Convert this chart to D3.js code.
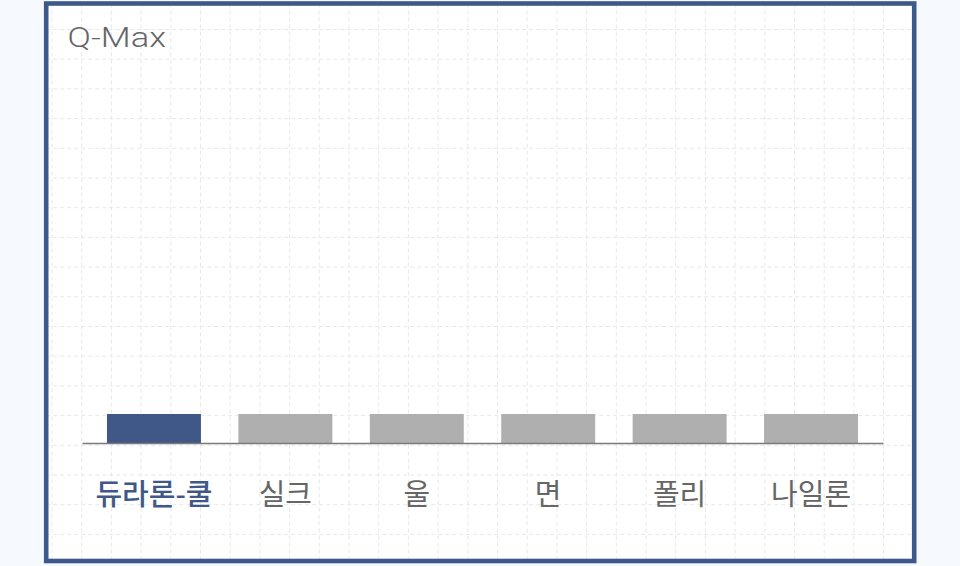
<!DOCTYPE html>
<html>
<head>
<meta charset="utf-8">
<script src="https://cdn.jsdelivr.net/npm/d3@7"></script>
<style>
  html, body { margin: 0; padding: 0; background: #f6f9fe; }
  svg { display: block; }
</style>
</head>
<body>
<div id="chart"></div>
<script>
// data
const categories = ['듀라론-쿨', '실크', '울', '면', '폴리', '나일론'];
const values = [1, 1, 1, 1, 1, 1];
const highlight = '듀라론-쿨';
const title = 'Q-Max';

const W = 960, H = 566;
const panel = {x: 46.2, y: 3.5, w: 868, h: 557.5};
const plot = {left: 82, right: 883, top: 153, bottom: 443};

const svg = d3.select('#chart').append('svg')
    .attr('width', W)
    .attr('height', H);

svg.append('rect')
    .attr('width', W).attr('height', H)
    .attr('fill', '#f6f9fe');

svg.append('clipPath')
    .attr('id', 'panel-clip')
    .append('rect')
    .attr('x', panel.x + 2).attr('y', panel.y + 2)
    .attr('width', panel.w - 4).attr('height', panel.h - 4);

svg.append('rect')
    .attr('x', panel.x).attr('y', panel.y)
    .attr('width', panel.w).attr('height', panel.h)
    .attr('fill', '#fff');

// dashed background grid
const step = 29.7;
const grid = svg.append('g').attr('clip-path', 'url(#panel-clip)')
    .attr('stroke', '#e8e8e8').attr('stroke-width', 1).attr('stroke-dasharray', '4,3');

grid.selectAll('.gx')
    .data(d3.range(52, panel.x + panel.w, step))
    .enter().append('line')
    .attr('x1', d => d).attr('x2', d => d)
    .attr('y1', panel.y).attr('y2', panel.y + panel.h);

grid.selectAll('.gy')
    .data(d3.range(29.5, panel.y + panel.h, step))
    .enter().append('line')
    .attr('y1', d => d).attr('y2', d => d)
    .attr('x1', panel.x).attr('x2', panel.x + panel.w);

// scales
let xScale = d3.scaleBand()
    .domain(categories)
    .range([plot.left, plot.right])
    .paddingInner(0.285)
    .paddingOuter(0.19);

let yScale = d3.scaleLinear()
    .domain([0, 10])
    .range([plot.bottom, plot.top]);

svg.selectAll('.bar')
    .data(categories)
    .enter().append('rect')
    .attr('class', 'bar')
    .attr('x', d => xScale(d))
    .attr('width', xScale.bandwidth())
    .attr('y', (d, i) => yScale(values[i]))
    .attr('height', (d, i) => yScale(0) - yScale(values[i]))
    .attr('fill', d => d === highlight ? '#3f5888' : '#afafaf');

let xAxis = d3.axisBottom(xScale)
    .tickSize(0)
    .tickSizeOuter(0)
    .tickPadding(0);

let xAxisGroup = svg.append('g')
    .attr('class', 'x-axis')
    .attr('transform', 'translate(0,' + plot.bottom + ')')
    .call(xAxis);

xAxisGroup.select('.domain')
    .attr('stroke', '#7a7a7a')
    .attr('stroke-width', 1.3);

xAxisGroup.selectAll('text')
    .attr('y', 62)
    .attr('dy', 0)
    .attr('font-family', '"Noto Sans CJK KR", sans-serif')
    .attr('font-size', 29)
    .attr('font-weight', d => d === highlight ? 500 : 400)
    .attr('fill', d => d === highlight ? '#3f5888' : '#666');

// panel border on top
svg.append('rect')
    .attr('x', panel.x).attr('y', panel.y)
    .attr('width', panel.w).attr('height', panel.h)
    .attr('fill', 'none')
    .attr('stroke', '#3d598b')
    .attr('stroke-width', 4.6);

svg.append('text')
    .attr('x', 67.5)
    .attr('y', 47.3)
    .attr('font-family', 'Roboto, sans-serif')
    .attr('font-weight', 300)
    .attr('font-size', 27)
    .attr('textLength', 98.5)
    .attr('lengthAdjust', 'spacingAndGlyphs')
    .attr('fill', '#666')
    .text(title);
</script>
</body>
</html>
